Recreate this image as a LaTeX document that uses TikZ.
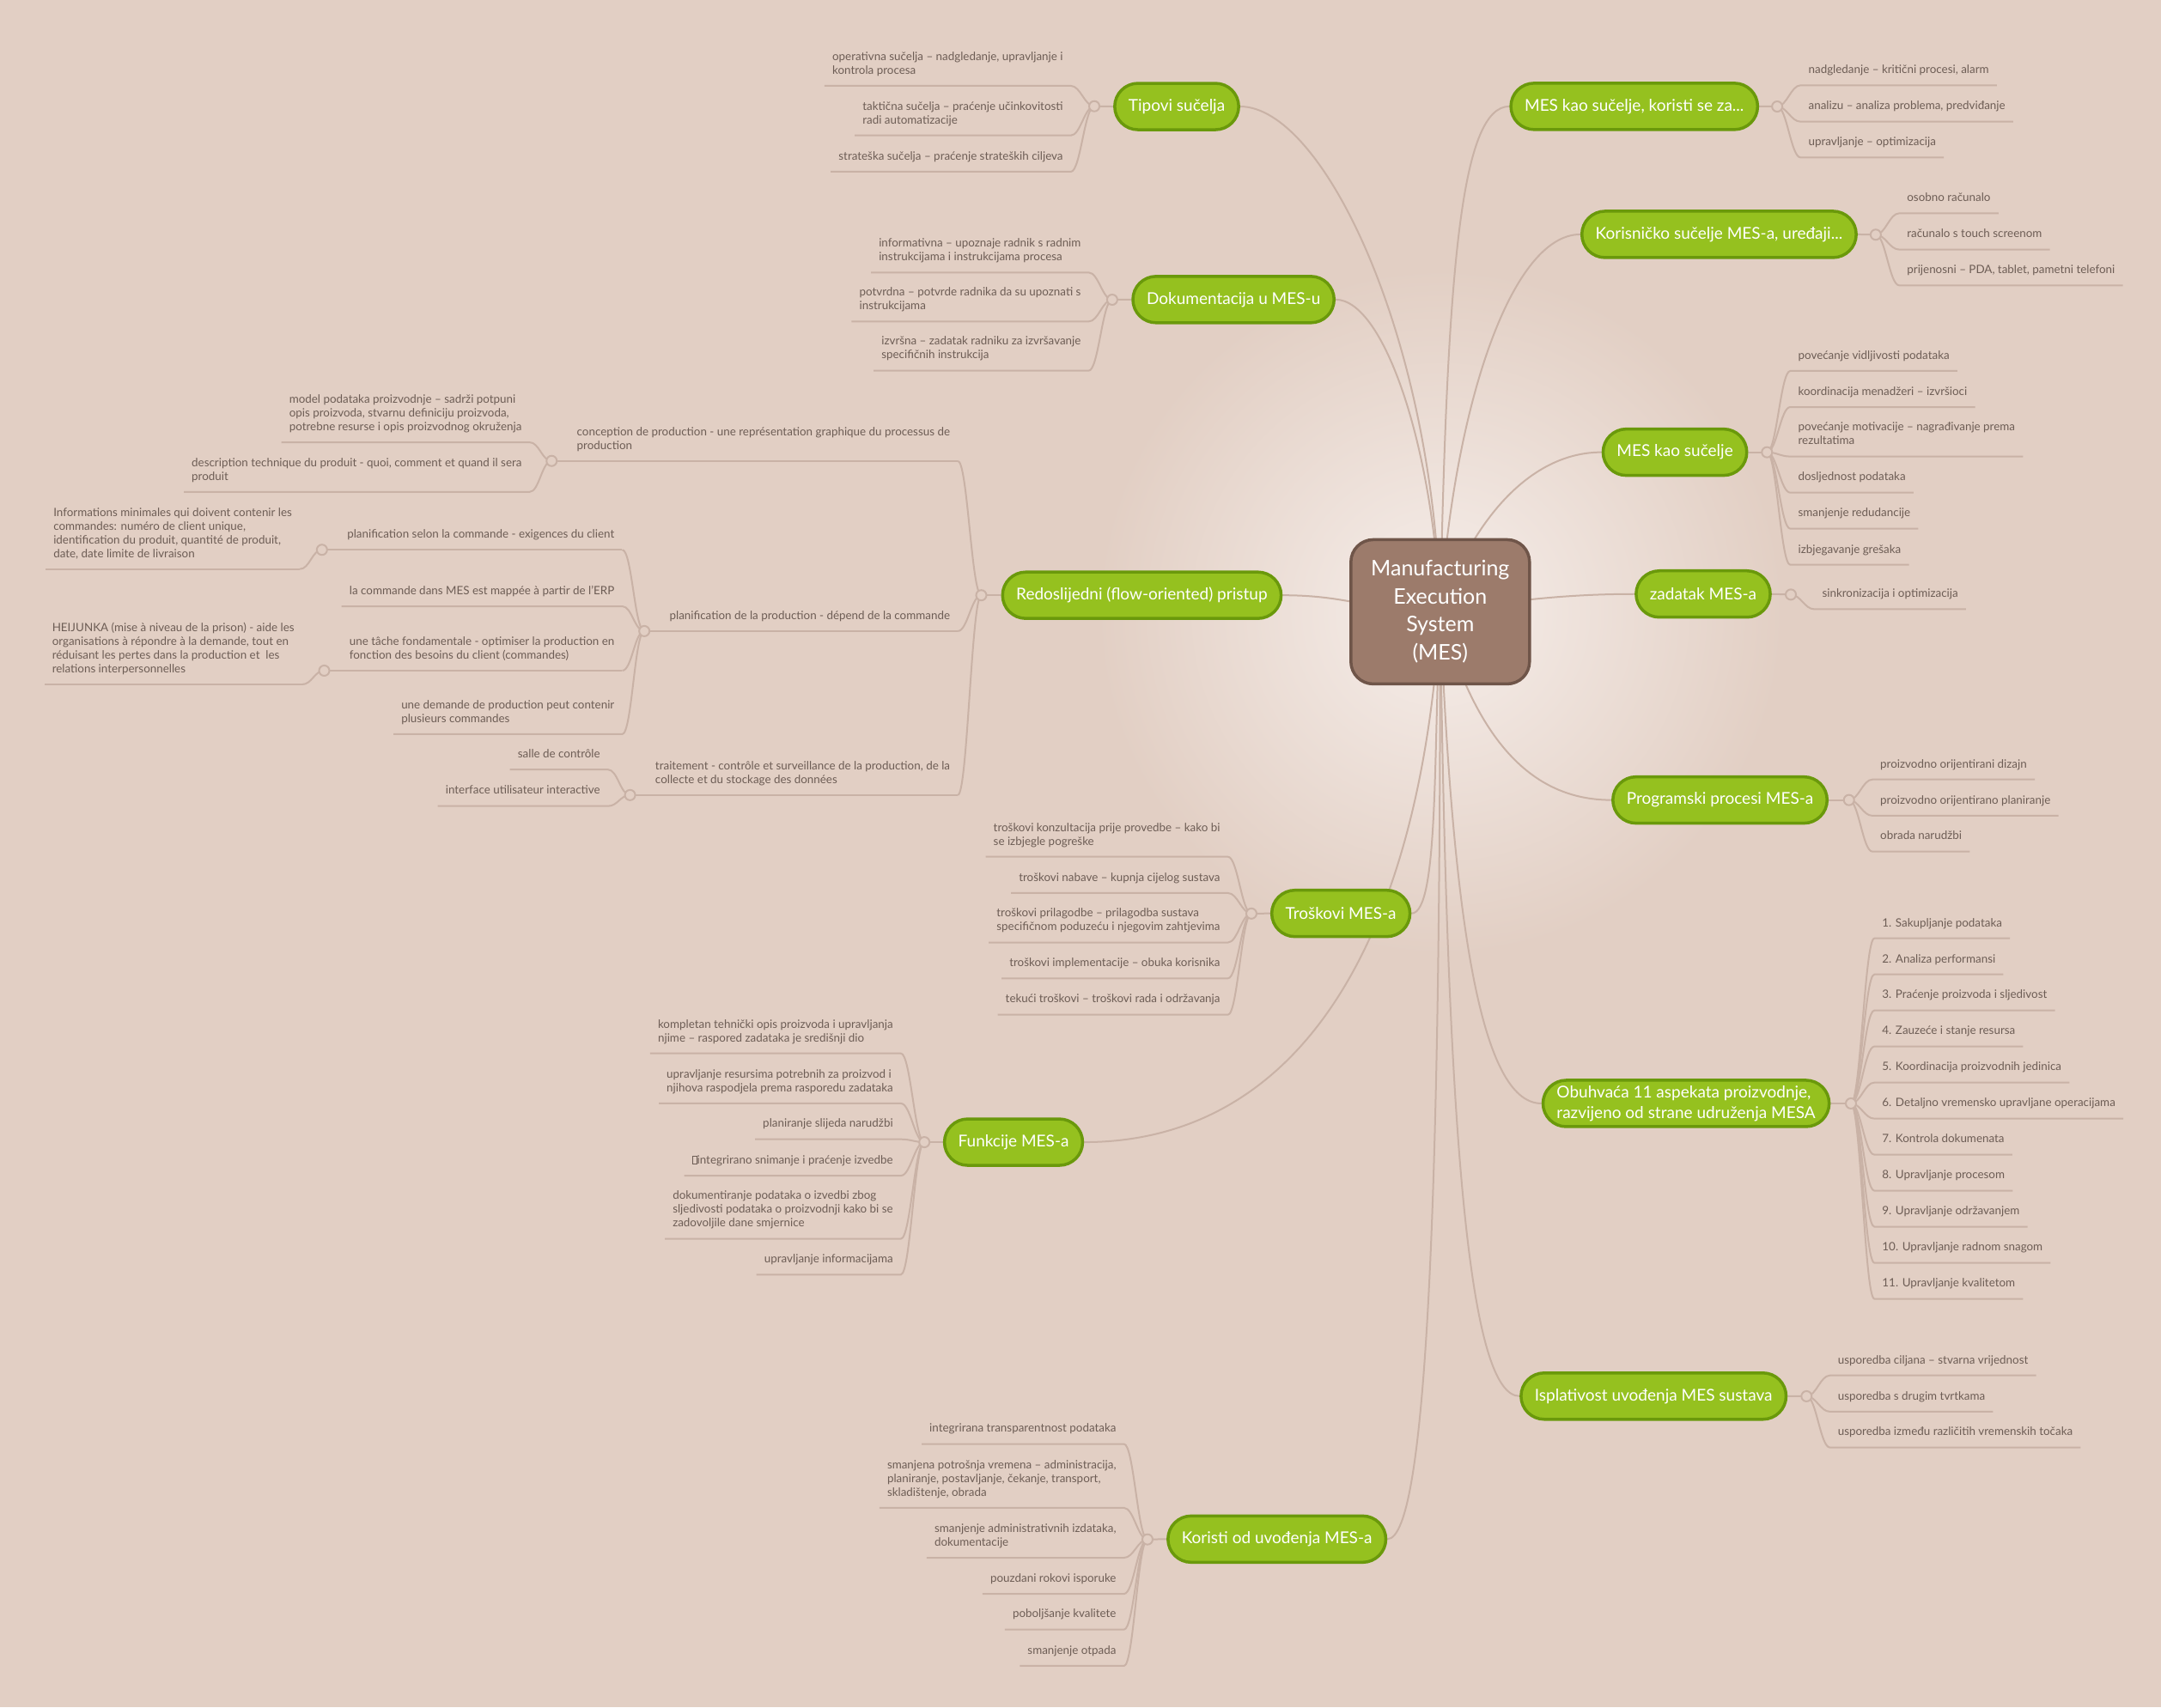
\documentclass[tikz,border=0pt]{standalone}
\usepackage{xcolor}
\usepackage{fontspec}
\setmainfont{Lato}
\usetikzlibrary{calc}
\usetikzlibrary{shapes.misc}

\definecolor{paper}{HTML}{E2CFC4}
\definecolor{glowc}{HTML}{F6EEEA}
\definecolor{rootfill}{HTML}{9C7B6B}
\definecolor{rootline}{HTML}{6F5549}
\definecolor{topicfill}{HTML}{95C11F}
\definecolor{topicline}{HTML}{6A990B}
\definecolor{leaftext}{HTML}{6D5D55}
\definecolor{wirec}{HTML}{C9B2A6}

\newcommand{\missingglyph}{{\setlength{\fboxsep}{0pt}\setlength{\fboxrule}{0.6pt}\fbox{\rule{0pt}{9pt}\hspace{4.5pt}}}}

\pgfdeclarelayer{back}
\pgfdeclarelayer{wires}
\pgfsetlayers{back,wires,main}

\begin{document}
\begin{tikzpicture}[x=1.6046pt, y=-1.6046pt,
  root/.style={draw=rootline, fill=rootfill, line width=3.5pt, rounded corners=26pt, minimum width=208pt, minimum height=168pt, text=white, font=\fontsize{25}{32.5}\selectfont, align=center},
  topic/.style={draw=topicline, fill=topicfill, line width=3.5pt, rounded corners=27pt, minimum height=54pt, inner xsep=16pt, text=white, font=\fontsize{19}{24}\selectfont, align=left},
  knob/.style={circle, draw=wirec, fill=paper, line width=2pt, minimum size=12pt, inner sep=0pt},
  leaf/.style={text=leaftext, font=\fontsize{13.4}{16}\selectfont, align=left, inner xsep=9pt, inner ysep=9.5pt, text depth=4pt},
  stem/.style={draw=wirec, line width=2pt},
  twig/.style={draw=wirec, line width=2pt}]

  % canvas
  \useasboundingbox (0,0) rectangle (1568,1239);
  \begin{pgfonlayer}{back}
    \fill[paper] (0,0) rectangle (1568,1239);
    \shade[inner color=glowc, outer color=paper] (1045,444) circle (400pt);
  \end{pgfonlayer}

  % Root
  \node[root] (mes) at (1045,444) {Manufacturing\\Execution\\System\\(MES)};

  % Topics, right side
  \node[topic] (r1) at (1185.8,77.2) {MES kao sučelje, koristi se za...};
  \node[topic] (r2) at (1247.3,170.1) {Korisničko sučelje MES-a, uređaji...};
  \node[topic] (r3) at (1215.3,328.2) {MES kao sučelje};
  \node[topic] (r4) at (1235.8,431.1) {zadatak MES-a};
  \node[topic] (r5) at (1248,580.6) {Programski procesi MES-a};
  \node[topic] (r6) at (1223.4,800.8) {Obuhvaća 11 aspekata proizvodnje,\\razvijeno od strane udruženja MESA};
  \node[topic] (r7) at (1199.8,1013.2) {Isplativost uvođenja MES sustava};

  % Topics, left side
  \node[topic] (l1) at (853.8,77.3) {Tipovi sučelja};
  \node[topic] (l2) at (895,217.4) {Dokumentacija u MES-u};
  \node[topic] (l3) at (828.5,432) {Redoslijedni (flow-oriented) pristup};
  \node[topic] (l4) at (972.9,662.9) {Troškovi MES-a};
  \node[topic] (l5) at (735.4,828.9) {Funkcije MES-a};
  \node[topic] (l6) at (926.5,1117) {Koristi od uvođenja MES-a};

  % knobs
  \node[knob] (r1k) at (1289.5,77.3) {};
  \node[knob] (r2k) at (1361,170.3) {};
  \node[knob] (r3k) at (1282.1,328.2) {};
  \node[knob] (r4k) at (1299.4,431.5) {};
  \node[knob] (r5k) at (1341.6,580.6) {};
  \node[knob] (r6k) at (1343,800.8) {};
  \node[knob] (r7k) at (1310.8,1013.3) {};
  \node[knob] (l1k) at (794,77.1) {};
  \node[knob] (l2k) at (807,217.5) {};
  \node[knob] (l3k) at (712,432) {};
  \node[knob] (l4k) at (908,663) {};
  \node[knob] (l5k) at (670.7,828.9) {};
  \node[knob] (l6k) at (832.6,1117.2) {};

  % stems from the root
  \begin{pgfonlayer}{wires}
    \draw[stem] (mes.center) .. controls +(5,-250) and +(-35,0) .. (r1.west);
    \draw[stem] (mes.center) .. controls +(10,-150) and +(-50,0) .. (r2.west);
    \draw[stem] (mes.center) .. controls +(25,-70) and +(-50,0) .. (r3.west);
    \draw[stem] (mes.center) .. controls +(50,-8) and +(-50,0) .. (r4.west);
    \draw[stem] (mes.center) .. controls +(25,90) and +(-60,0) .. (r5.west);
    \draw[stem] (mes.center) .. controls +(10,250) and +(-40,0) .. (r6.west);
    \draw[stem] (mes.center) .. controls +(5,400) and +(-35,0) .. (r7.west);
    \draw[stem] (mes.center) .. controls +(-5,-200) and +(60,0) .. (l1.east);
    \draw[stem] (mes.center) .. controls +(-5,-120) and +(35,0) .. (l2.east);
    \draw[stem] (mes.center) .. controls +(-50,0) and +(50,0) .. (l3.east);
    \draw[stem] (mes.center) .. controls +(-5,100) and +(20,0) .. (l4.east);
    \draw[stem] (mes.center) .. controls +(-15,250) and +(150,0) .. (l5.east);
    \draw[stem] (mes.center) .. controls +(0,400) and +(30,0) .. (l6.east);
    \foreach \n in {r1,r2,r3,r4,r5,r6,r7}
      \draw[twig] (\n.east) -- (\n k.center);
    \foreach \n in {l1,l2,l3,l4,l5,l6}
      \draw[twig] (\n.west) -- (\n k.center);
  \end{pgfonlayer}

  % leaves, right side
  \foreach \y/\t [count=\i] in {61.9/{nadgledanje – kritični procesi, alarm}, 88.3/{analizu – analiza problema, predviđanje}, 114.3/{upravljanje – optimizacija}}{
    \node[leaf, anchor=south west] (r1-\i) at (1306.5,\y) {\t};
    \begin{pgfonlayer}{wires}
      \draw[twig] (r1k.center) .. controls +(7,0) and +(-7,0) .. (r1-\i.south west) -- (r1-\i.south east);
    \end{pgfonlayer}
  }
  \foreach \y/\t [count=\i] in {154.8/{osobno računalo}, 181.1/{računalo s touch screenom}, 207.1/{prijenosni – PDA, tablet, pametni telefoni}}{
    \node[leaf, anchor=south west] (r2-\i) at (1378,\y) {\t};
    \begin{pgfonlayer}{wires}
      \draw[twig] (r2k.center) .. controls +(7,0) and +(-7,0) .. (r2-\i.south west) -- (r2-\i.south east);
    \end{pgfonlayer}
  }
  \foreach \y/\t [count=\i] in {269.2/{povećanje vidljivosti podataka}, 295.4/{koordinacija menadžeri – izvršioci}, 331.3/{povećanje motivacije – nagrađivanje prema\\rezultatima}, 357.5/{dosljednost podataka}, 383.7/{smanjenje redudancije}, 409.9/{izbjegavanje grešaka}}{
    \node[leaf, anchor=south west] (r3-\i) at (1299,\y) {\t};
    \begin{pgfonlayer}{wires}
      \draw[twig] (r3k.center) .. controls +(7,0) and +(-7,0) .. (r3-\i.south west) -- (r3-\i.south east);
    \end{pgfonlayer}
  }
  \node[leaf, anchor=south west] (r4-1) at (1316.4,442.1) {sinkronizacija i optimizacija};
  \begin{pgfonlayer}{wires}
    \draw[twig] (r4k.center) .. controls +(7,0) and +(-7,0) .. (r4-1.south west) -- (r4-1.south east);
  \end{pgfonlayer}
  \foreach \y/\t [count=\i] in {565.7/{proizvodno orijentirani dizajn}, 592/{proizvodno orijentirano planiranje}, 618/{obrada narudžbi}}{
    \node[leaf, anchor=south west] (r5-\i) at (1358.6,\y) {\t};
    \begin{pgfonlayer}{wires}
      \draw[twig] (r5k.center) .. controls +(7,0) and +(-7,0) .. (r5-\i.south west) -- (r5-\i.south east);
    \end{pgfonlayer}
  }
  \foreach \t [count=\i] in {1. Sakupljanje podataka, 2. Analiza performansi, 3. Praćenje proizvoda i sljedivost, 4. Zauzeće i stanje resursa, 5. Koordinacija proizvodnih jedinica, 6. Detaljno vremensko upravljane operacijama, 7. Kontrola dokumenata, 8. Upravljanje procesom, 9. Upravljanje održavanjem, 10. Upravljanje radnom snagom, 11. Upravljanje kvalitetom}{
    \node[leaf, anchor=south west] (r6-\i) at (1360,{681+26.16*(\i-1)}) {\t};
    \begin{pgfonlayer}{wires}
      \draw[twig] (r6k.center) .. controls +(7,0) and +(-7,0) .. (r6-\i.south west) -- (r6-\i.south east);
    \end{pgfonlayer}
  }
  \foreach \y/\t [count=\i] in {998.2/{usporedba ciljana – stvarna vrijednost}, 1024.5/{usporedba s drugim tvrtkama}, 1050.5/{usporedba između različitih vremenskih točaka}}{
    \node[leaf, anchor=south west] (r7-\i) at (1327.8,\y) {\t};
    \begin{pgfonlayer}{wires}
      \draw[twig] (r7k.center) .. controls +(7,0) and +(-7,0) .. (r7-\i.south west) -- (r7-\i.south east);
    \end{pgfonlayer}
  }

  % leaves, left side
  \foreach \y/\t [count=\i] in {62.3/{operativna sučelja – nadgledanje, upravljanje i\\kontrola procesa}, 98.3/{taktična sučelja – praćenje učinkovitosti\\radi automatizacije}, 124.6/{strateška sučelja – praćenje strateških ciljeva}}{
    \node[leaf, anchor=south east] (l1-\i) at (777,\y) {\t};
    \begin{pgfonlayer}{wires}
      \draw[twig] (l1k.center) .. controls +(-7,0) and +(7,0) .. (l1-\i.south east) -- (l1-\i.south west);
    \end{pgfonlayer}
  }
  \foreach \y/\t [count=\i] in {197.8/{informativna – upoznaje radnik s radnim\\instrukcijama i instrukcijama procesa}, 233.3/{potvrdna – potvrde radnika da su upoznati s\\instrukcijama}, 269/{izvršna – zadatak radniku za izvršavanje\\specifičnih instrukcija}}{
    \node[leaf, anchor=south east] (l2-\i) at (790,\y) {\t};
    \begin{pgfonlayer}{wires}
      \draw[twig] (l2k.center) .. controls +(-7,0) and +(7,0) .. (l2-\i.south east) -- (l2-\i.south west);
    \end{pgfonlayer}
  }
  \foreach \y/\t [count=\i] in {621.8/{troškovi konzultacija prije provedbe – kako bi\\se izbjegle pogreške}, 648.1/{troškovi nabave – kupnja cijelog sustava}, 684/{troškovi prilagodbe – prilagodba sustava\\specifičnom poduzeću i njegovim zahtjevima}, 710/{troškovi implementacije – obuka korisnika}, 736.4/{tekući troškovi – troškovi rada i održavanja}}{
    \node[leaf, anchor=south east] (l4-\i) at (891,\y) {\t};
    \begin{pgfonlayer}{wires}
      \draw[twig] (l4k.center) .. controls +(-7,0) and +(7,0) .. (l4-\i.south east) -- (l4-\i.south west);
    \end{pgfonlayer}
  }
  \foreach \y/\t [count=\i] in {764.5/{kompletan tehnički opis proizvoda i upravljanja\\njime – raspored zadataka je središnji dio}, 800.8/{upravljanje resursima potrebnih za proizvod i\\njihova raspodjela prema rasporedu zadataka}, 826.8/{planiranje slijeda narudžbi}, 853.2/{\missingglyph{}integrirano snimanje i praćenje izvedbe}, 899/{dokumentiranje podataka o izvedbi zbog\\sljedivosti podataka o proizvodnji kako bi se\\zadovoljile dane smjernice}, 925/{upravljanje informacijama}}{
    \node[leaf, anchor=south east] (l5-\i) at (653.7,\y) {\t};
    \begin{pgfonlayer}{wires}
      \draw[twig] (l5k.center) .. controls +(-7,0) and +(7,0) .. (l5-\i.south east) -- (l5-\i.south west);
    \end{pgfonlayer}
  }
  \foreach \y/\t [count=\i] in {1048/{integrirana transparentnost podataka}, 1094.3/{smanjena potrošnja vremena – administracija,\\planiranje, postavljanje, čekanje, transport,\\skladištenje, obrada}, 1130.5/{smanjenje administrativnih izdataka,\\dokumentacije}, 1156.7/{pouzdani rokovi isporuke}, 1182.6/{poboljšanje kvalitete}, 1209/{smanjenje otpada}}{
    \node[leaf, anchor=south east] (l6-\i) at (815.6,\y) {\t};
    \begin{pgfonlayer}{wires}
      \draw[twig] (l6k.center) .. controls +(-7,0) and +(7,0) .. (l6-\i.south east) -- (l6-\i.south west);
    \end{pgfonlayer}
  }

  % Redoslijedni pristup, nested levels
  \node[leaf, anchor=south east] (conc) at (695,334.5) {conception de production - une représentation graphique du processus de\\production};
  \node[knob] (conck) at ($(conc.south west)+(-12.6,0)$) {};
  \node[leaf, anchor=south east] (model) at ($(conck)+(-16,-13.5)$) {model podataka proizvodnje – sadrži potpuni\\opis proizvoda, stvarnu definiciju proizvoda,\\potrebne resurse i opis proizvodnog okruženja};
  \node[leaf, anchor=south east] (descr) at ($(conck)+(-16,22.5)$) {description technique du produit - quoi, comment et quand il sera\\produit};

  \node[leaf, anchor=south east] (plan) at (695,458) {planification de la production - dépend de la commande};
  \node[knob] (plank) at ($(plan.south west)+(-12.6,0)$) {};
  \node[leaf, anchor=south east] (sel) at ($(plank)+(-16,-59)$) {planification selon la commande - exigences du client};
  \node[knob] (selk) at ($(sel.south west)+(-12.6,0)$) {};
  \node[leaf, anchor=south east] (info) at ($(selk)+(-16,14)$) {Informations minimales qui doivent contenir les\\commandes: numéro de client unique,\\identification du produit, quantité de produit,\\date, date limite de livraison};
  \node[leaf, anchor=south east] (erp) at ($(plank)+(-16,-18)$) {la commande dans MES est mappée à partir de l'ERP};
  \node[leaf, anchor=south east] (tache) at ($(plank)+(-16,28.7)$) {une tâche fondamentale - optimiser la production en\\fonction des besoins du client (commandes)};
  \node[knob] (tachek) at ($(tache.south west)+(-12.6,0)$) {};
  \node[leaf, anchor=south east] (heij) at ($(tachek)+(-16,10)$) {HEIJUNKA (mise à niveau de la prison) - aide les\\organisations à répondre à la demande, tout en\\réduisant les pertes dans la production et \ les\\relations interpersonnelles};
  \node[leaf, anchor=south east] (dem) at ($(plank)+(-16,74.8)$) {une demande de production peut contenir\\plusieurs commandes};

  \node[leaf, anchor=south east] (trait) at (695,577) {traitement - contrôle et surveillance de la production, de la\\collecte et du stockage des données};
  \node[knob] (traitk) at ($(trait.south west)+(-12.6,0)$) {};
  \node[leaf, anchor=south east] (salle) at ($(traitk)+(-16,-18.5)$) {salle de contrôle};
  \node[leaf, anchor=south east] (iface) at ($(traitk)+(-16,8)$) {interface utilisateur interactive};

  \begin{pgfonlayer}{wires}
    \foreach \a/\b in {l3k/conc, l3k/plan, l3k/trait, plank/sel, tachek/heij, selk/info, plank/tache}
      \draw[twig] (\a.center) .. controls +(-7,0) and +(7,0) .. (\b.south east);
    \draw[twig] (conc.south east) -- (conck.center);
    \draw[twig] (plan.south east) -- (plank.center);
    \draw[twig] (trait.south east) -- (traitk.center);
    \draw[twig] (sel.south east) -- (selk.center);
    \draw[twig] (tache.south east) -- (tachek.center);
    \foreach \a/\b in {conck/model, conck/descr, plank/erp, plank/dem, traitk/salle, traitk/iface}
      \draw[twig] (\a.center) .. controls +(-7,0) and +(7,0) .. (\b.south east) -- (\b.south west);
    \draw[twig] (info.south east) -- (info.south west);
    \draw[twig] (heij.south east) -- (heij.south west);
  \end{pgfonlayer}

\end{tikzpicture}
\end{document}
